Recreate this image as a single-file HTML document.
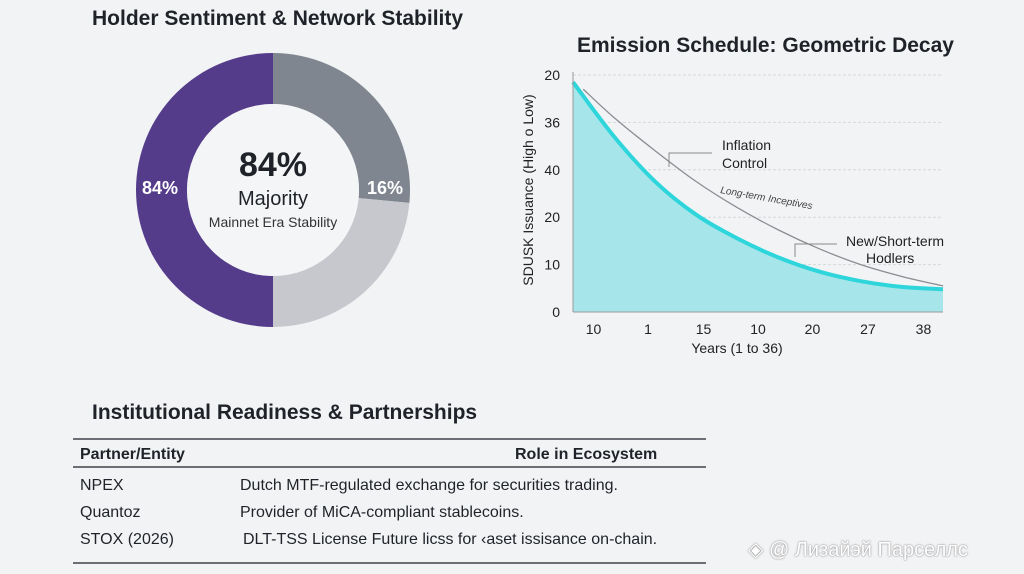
<!DOCTYPE html>
<html><head><meta charset="utf-8"><style>
body{margin:0;width:1024px;height:574px;background:#f2f3f5;font-family:"Liberation Sans","Noto Sans CJK SC",sans-serif;overflow:hidden;position:relative;color:#1f2329}
.t{position:absolute;white-space:nowrap}
</style></head><body>
<div class="t" style="left:92px;top:7px;font-size:21px;font-weight:bold">Holder Sentiment &amp; Network Stability</div>
<svg id="donut" width="1024" height="574" style="position:absolute;left:0;top:0"></svg>
<div class="t" style="left:577px;top:34px;font-size:21px;font-weight:bold">Emission Schedule: Geometric Decay</div>
<svg id="chart" width="1024" height="574" style="position:absolute;left:0;top:0"></svg>
<div class="t" style="left:92px;top:401px;font-size:21px;font-weight:bold">Institutional Readiness &amp; Partnerships</div>
<div style="position:absolute;left:73px;top:438px;width:633px;height:2px;background:#6b6f75"></div>
<div style="position:absolute;left:73px;top:466px;width:633px;height:2px;background:#6b6f75"></div>
<div style="position:absolute;left:73px;top:562px;width:633px;height:2px;background:#6b6f75"></div>
<div class="t" style="left:80px;top:446px;font-size:16px;font-weight:bold">Partner/Entity</div>
<div class="t" style="left:515px;top:446px;font-size:16px;font-weight:bold">Role in Ecosystem</div>
<div class="t" style="left:80px;top:477px;font-size:16px">NPEX</div>
<div class="t" style="left:240px;top:477px;font-size:16px">Dutch MTF-regulated exchange for securities trading.</div>
<div class="t" style="left:80px;top:504px;font-size:16px">Quantoz</div>
<div class="t" style="left:240px;top:504px;font-size:16px">Provider of MiCA-compliant stablecoins.</div>
<div class="t" style="left:80px;top:531px;font-size:16px">STOX (2026)</div>
<div class="t" style="left:243px;top:531px;font-size:16px">DLT-TSS License Future licss for ‹aset issisance on-chain.</div>
<div class="t" style="left:748px;top:537px;font-size:20px;color:#fff;text-shadow:0 0 2px #999,0 0 1px #888">◈ @ Лизайэй Парселлс</div>
<script>
const sliceLabels=["84%","",""];
const sliceValues=[50,26.5,23.5];
const sliceColors=["#553c8b","#7f868f","#c6c8cd"];
const years=[0,4,8,12,16,20,24,28,32,36];
const issuance=[48.5,37,27.5,20.5,15.5,11.5,8.5,6.5,5.3,4.8];
const grayYears=[1,4,8,12,16,20,24,28,32,36];
const incentive=[47,41,34,27.5,22,17.3,13.3,10,7.5,5.5];
const yTickVals=[0,10,20,30,40,50];
const yTickLabels=["0","10","20","40","36","20"];
const xTickVals=[2,7.3,12.7,18,23.3,28.7,34.1];
const xTickLabels=["10","1","15","10","20","27","38"];
const NS="http://www.w3.org/2000/svg";
function mk(svg,tag,attrs,txt){const e=document.createElementNS(NS,tag);for(const k in attrs)e.setAttribute(k,attrs[k]);if(txt!==undefined)e.textContent=txt;svg.appendChild(e);return e;}
const d=document.getElementById('donut');
const cx=273,cy=190,R=137,r=86;
const tot=sliceValues.reduce((a,b)=>a+b,0);
let ang=0;
function pt(a,rad){return [cx+rad*Math.sin(a),cy-rad*Math.cos(a)];}
sliceValues.forEach((v,i)=>{
  const a0=ang,a1=ang+v/tot*2*Math.PI;ang=a1;
  const s0=a0+Math.PI,s1=a1+Math.PI;
  const big=(s1-s0)>Math.PI?1:0;
  const [x0,y0]=pt(s0,R),[x1,y1]=pt(s1,R),[x2,y2]=pt(s1,r),[x3,y3]=pt(s0,r);
  const p=mk(d,'path',{d:`M${x0},${y0}A${R},${R} 0 ${big} 1 ${x1},${y1}L${x2},${y2}A${r},${r} 0 ${big} 0 ${x3},${y3}Z`,fill:sliceColors[i]});
  
  
});
mk(d,'circle',{cx:cx,cy:cy,r:r,fill:'#f4f5f7'});
const l1=mk(d,'text',{x:160,y:194,'font-size':18,'font-weight':'bold',fill:'#fff','text-anchor':'middle'},"84%");

const l2=mk(d,'text',{x:385,y:194,'font-size':18,'font-weight':'bold',fill:'#fff','text-anchor':'middle'},"16%");

const c1=mk(d,'text',{x:cx,y:176,'font-size':34,'font-weight':'bold',fill:'#1f2329','text-anchor':'middle'},"84%");

const c2=mk(d,'text',{x:cx,y:205,'font-size':20,fill:'#1f2329','text-anchor':'middle'},"Majority");

const c3=mk(d,'text',{x:cx,y:227,'font-size':14,fill:'#333','text-anchor':'middle'},"Mainnet Era Stability");

const c=document.getElementById('chart');
const X0=573,X1=943,Y0=312,Y1=75;
const xs=v=>X0+v/36*(X1-X0);
const ys=v=>Y0-v/50*(Y0-Y1);
yTickVals.forEach((v,i)=>{
  const g=mk(c,'line',{x1:X0,x2:X1,y1:ys(v),y2:ys(v),stroke:'#d5d8dc','stroke-dasharray':'3,2'});
  
  const t=mk(c,'text',{x:560,y:ys(v)+5,'font-size':14,fill:'#222','text-anchor':'end'},yTickLabels[i]);
  
});
xTickVals.forEach((v,i)=>{
  const t=mk(c,'text',{x:xs(v),y:334,'font-size':14,fill:'#222','text-anchor':'middle'},xTickLabels[i]);
  
});
function smooth(xv,yv){let s=`M${xs(xv[0])},${ys(yv[0])}`;for(let i=1;i<xv.length;i++){const p0=[xs(xv[Math.max(i-2,0)]),ys(yv[Math.max(i-2,0)])],p1=[xs(xv[i-1]),ys(yv[i-1])],p2=[xs(xv[i]),ys(yv[i])],p3=[xs(xv[Math.min(i+1,xv.length-1)]),ys(yv[Math.min(i+1,xv.length-1)])];s+=`C${p1[0]+(p2[0]-p0[0])/6},${p1[1]+(p2[1]-p0[1])/6} ${p2[0]-(p3[0]-p1[0])/6},${p2[1]-(p3[1]-p1[1])/6} ${p2[0]},${p2[1]}`;}return s;}
const cp=smooth(years,issuance);
const area=mk(c,'path',{d:cp+`L${xs(36)},${Y0}L${xs(0)},${Y0}Z`,fill:'#a6e6ea'});

const ln=mk(c,'path',{d:cp,fill:'none',stroke:'#2ed6db','stroke-width':4});

const gl=mk(c,'path',{d:smooth(grayYears,incentive),fill:'none',stroke:'#8a8d92','stroke-width':1.3});

mk(c,'line',{x1:X0,x2:X0,y1:Y1-3,y2:Y0,stroke:'#999'});
mk(c,'line',{x1:X0,x2:X1,y1:Y0,y2:Y0,stroke:'#999'});
mk(c,'path',{d:'M669,167V153H712',fill:'none',stroke:'#888'});
mk(c,'path',{d:'M795,257V244H837',fill:'none',stroke:'#888'});
const a1=mk(c,'text',{x:722,y:150,'font-size':14,fill:'#222'},"Inflation");

mk(c,'text',{x:722,y:168,'font-size':14,fill:'#222'},"Control");
const a2=mk(c,'text',{x:720,y:193,'font-size':10,fill:'#444','font-style':'italic',transform:'rotate(10 720 193)'},"Long-term Inceptives");

const a3=mk(c,'text',{x:846,y:246,'font-size':14,fill:'#222'},"New/Short-term");

mk(c,'text',{x:866,y:263,'font-size':14,fill:'#222'},"Hodlers");
const yt=mk(c,'text',{x:533,y:190,'font-size':14,fill:'#222','text-anchor':'middle',transform:'rotate(-90 533 190)'},"SDUSK Issuance (High o Low)");

const xt=mk(c,'text',{x:737,y:353,'font-size':14,fill:'#222','text-anchor':'middle'},"Years (1 to 36)");

</script>
</body></html>
